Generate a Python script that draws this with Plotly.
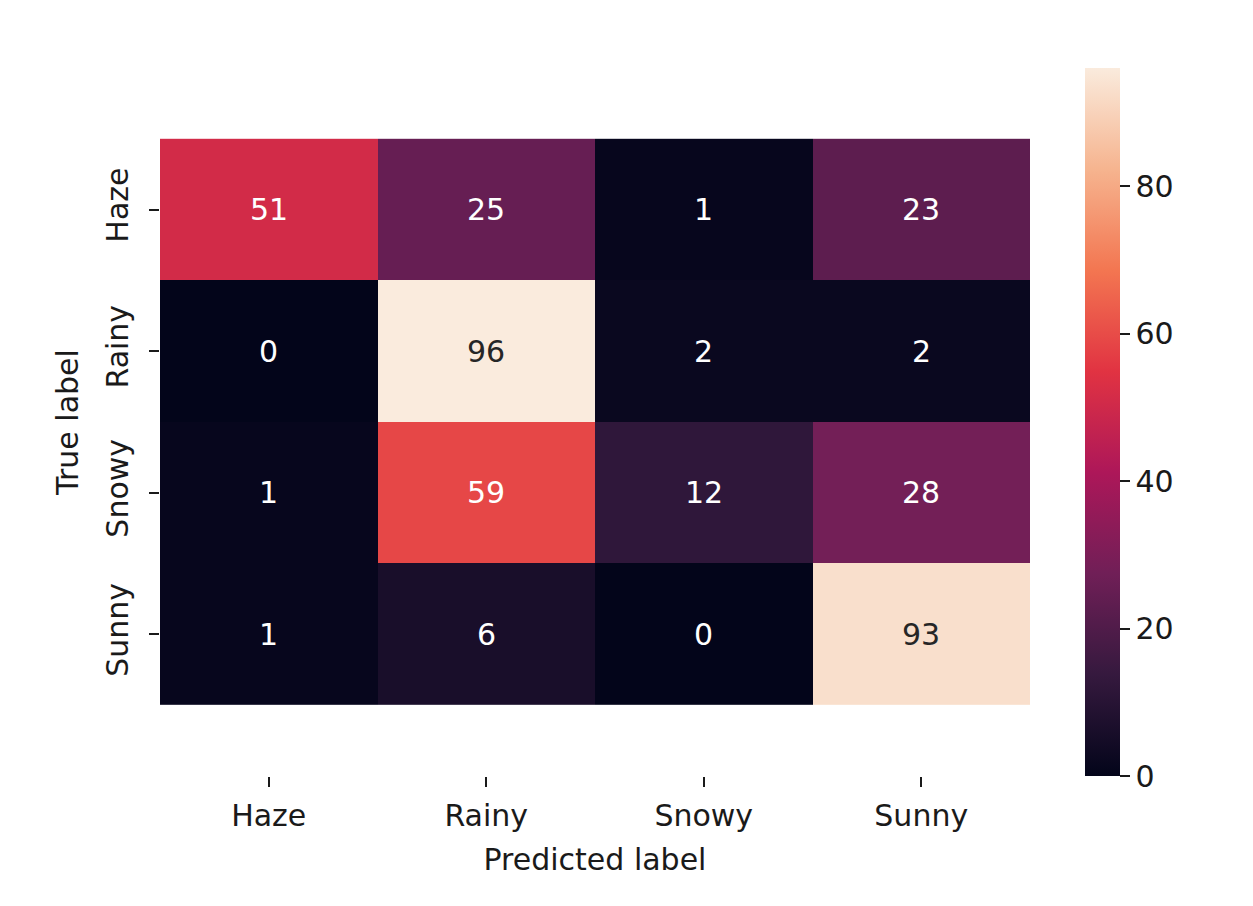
import plotly.graph_objects as go

labels = ["Haze", "Rainy", "Snowy", "Sunny"]
matrix = [
    [51, 25, 1, 23],
    [0, 96, 2, 2],
    [1, 59, 12, 28],
    [1, 6, 0, 93],
]
cbar_ticks = [0, 20, 40, 60, 80]

rocket = [
    [0.0, "#03051a"],
    [1 / 7, "#35193e"],
    [2 / 7, "#701f57"],
    [3 / 7, "#ad1759"],
    [4 / 7, "#e13342"],
    [5 / 7, "#f37651"],
    [6 / 7, "#f6b48f"],
    [1.0, "#faebdd"],
]

FONT = "DejaVu Sans"
FS = 30
TXT = "#1a1a1a"

idx = list(range(len(labels)))
zmax = max(max(r) for r in matrix)
zmin = min(min(r) for r in matrix)

fig = go.Figure(
    go.Heatmap(
        z=matrix,
        x=idx,
        y=idx,
        colorscale=rocket,
        zmin=zmin,
        zmax=zmax,
        xgap=0,
        ygap=0,
        hoverinfo="z",
        colorbar=dict(
            thickness=35,
            len=1.0,
            lenmode="fraction",
            x=1.0632,
            xanchor="left",
            xpad=0,
            ypad=0,
            y=0.5,
            yanchor="middle",
            outlinewidth=0,
            ticks="outside",
            ticklen=10,
            tickwidth=2,
            tickcolor=TXT,
            tickvals=cbar_ticks,
            tickfont=dict(family=FONT, size=FS, color=TXT),
        ),
    )
)

annotations = []
for i, row in enumerate(matrix):
    for j, v in enumerate(row):
        frac = (v - zmin) / (zmax - zmin)
        color = "#262626" if frac > 0.8 else "white"
        annotations.append(
            dict(
                x=j, y=i, xref="x", yref="y", text=str(v), showarrow=False,
                font=dict(family=FONT, size=FS, color=color),
            )
        )

fig.update_layout(
    width=1253,
    height=906,
    margin=dict(l=152, r=231, t=60, b=138),
    paper_bgcolor="white",
    plot_bgcolor="white",
    font=dict(family=FONT, size=FS, color=TXT),
    annotations=annotations,
    xaxis=dict(
        range=[-0.5, 3.5],
        tickvals=idx,
        ticktext=labels,
        ticks="outside",
        ticklen=10,
        tickwidth=2,
        tickcolor=TXT,
        ticklabelstandoff=3,
        showgrid=False,
        zeroline=False,
        showline=False,
        tickfont=dict(family=FONT, size=FS, color=TXT),
        title=dict(text="Predicted label", font=dict(family=FONT, size=FS, color=TXT), standoff=16),
    ),
    yaxis=dict(
        range=[4, -1],
        tickvals=idx,
        ticktext=labels,
        tickangle=-90,
        ticks="outside",
        ticklen=10,
        tickwidth=2,
        tickcolor=TXT,
        ticklabelstandoff=9,
        showgrid=False,
        zeroline=False,
        showline=False,
        tickfont=dict(family=FONT, size=FS, color=TXT),
        title=dict(text="True label", font=dict(family=FONT, size=FS, color=TXT), standoff=12),
    ),
)

fig.write_html("out.html")
